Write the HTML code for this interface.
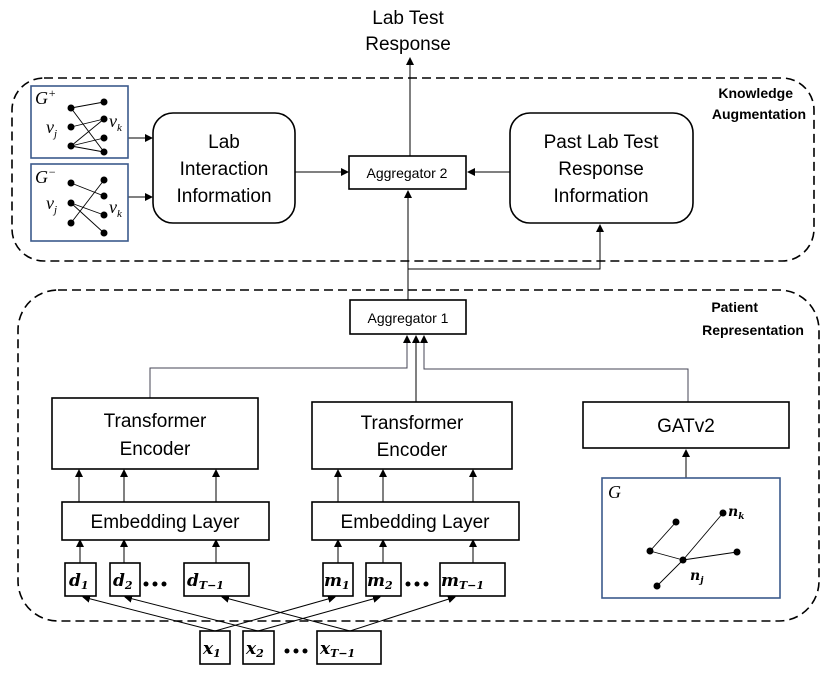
<!DOCTYPE html>
<html><head><meta charset="utf-8"><style>
html,body{margin:0;padding:0;background:#fff;}
svg{display:block;font-family:"Liberation Sans",sans-serif;}
.m{font-family:"DejaVu Serif","Liberation Serif",serif;font-weight:bold;font-style:italic;}
.i{font-family:"Liberation Serif",serif;font-style:italic;}
</style></head><body>
<svg width="839" height="675" viewBox="0 0 839 675" xmlns="http://www.w3.org/2000/svg">
<defs><marker id="a" markerWidth="8" markerHeight="8" refX="7" refY="4" orient="auto" markerUnits="userSpaceOnUse"><path d="M0,0 L8,4 L0,8 z" fill="#000"/></marker></defs>
<g fill="none" stroke="#000" stroke-width="1.6" stroke-dasharray="9,5">
<rect x="12" y="78" width="802" height="183" rx="32"/>
<rect x="18" y="290" width="801" height="331" rx="40"/>
</g>
<text x="408" y="24" font-size="19" text-anchor="middle">Lab Test</text>
<text x="408" y="50" font-size="19" text-anchor="middle">Response</text>
<text x="793" y="98" font-size="14" font-weight="bold" text-anchor="end">Knowledge</text>
<text x="806" y="119" font-size="14" font-weight="bold" text-anchor="end">Augmentation</text>
<text x="758" y="312" font-size="14" font-weight="bold" text-anchor="end">Patient</text>
<text x="804" y="335" font-size="14" font-weight="bold" text-anchor="end">Representation</text>
<g stroke="#000" stroke-width="1" fill="none">
<line x1="410" y1="156" x2="410" y2="58" marker-end="url(#a)"/>
<line x1="128" y1="138" x2="152" y2="138" marker-end="url(#a)"/>
<line x1="128" y1="197" x2="152" y2="197" marker-end="url(#a)"/>
<line x1="295" y1="172" x2="348" y2="172" marker-end="url(#a)"/>
<line x1="510" y1="172" x2="468" y2="172" marker-end="url(#a)"/>
<line x1="408" y1="300" x2="408" y2="191" marker-end="url(#a)"/>
<polyline points="408,269 600,269 600,225" marker-end="url(#a)"/>
<polyline stroke="#445" points="150,398 150,368 407,368 407,336" marker-end="url(#a)"/>
<line x1="416" y1="402" x2="416" y2="336" marker-end="url(#a)"/>
<polyline stroke="#445" points="688,402 688,369 424,369 424,336" marker-end="url(#a)"/>
<line x1="686" y1="478" x2="686" y2="450" marker-end="url(#a)"/>
<line x1="79" y1="502" x2="79" y2="470" marker-end="url(#a)"/>
<line x1="124" y1="502" x2="124" y2="470" marker-end="url(#a)"/>
<line x1="216" y1="502" x2="216" y2="470" marker-end="url(#a)"/>
<line x1="338" y1="502" x2="338" y2="470" marker-end="url(#a)"/>
<line x1="383" y1="502" x2="383" y2="470" marker-end="url(#a)"/>
<line x1="473" y1="502" x2="473" y2="470" marker-end="url(#a)"/>
<line x1="80" y1="563" x2="80" y2="540" marker-end="url(#a)"/>
<line x1="124" y1="563" x2="124" y2="540" marker-end="url(#a)"/>
<line x1="216" y1="563" x2="216" y2="540" marker-end="url(#a)"/>
<line x1="338" y1="563" x2="338" y2="540" marker-end="url(#a)"/>
<line x1="383" y1="563" x2="383" y2="540" marker-end="url(#a)"/>
<line x1="473" y1="563" x2="473" y2="540" marker-end="url(#a)"/>
<line x1="215" y1="631" x2="83" y2="597" marker-end="url(#a)"/>
<line x1="215" y1="631" x2="335" y2="597" marker-end="url(#a)"/>
<line x1="258" y1="631" x2="125" y2="597" marker-end="url(#a)"/>
<line x1="258" y1="631" x2="380" y2="597" marker-end="url(#a)"/>
<line x1="350" y1="631" x2="222" y2="597" marker-end="url(#a)"/>
<line x1="350" y1="631" x2="455" y2="597" marker-end="url(#a)"/>
</g>
<g fill="#fff" stroke="#000" stroke-width="1.6">
<rect x="153" y="113" width="142" height="110" rx="20"/>
<rect x="510" y="113" width="183" height="110" rx="20"/>
<rect x="349" y="156" width="117" height="33"/>
<rect x="350" y="300" width="116" height="34"/>
<rect x="52" y="398" width="206" height="71"/>
<rect x="312" y="402" width="200" height="67"/>
<rect x="583" y="402" width="206" height="46"/>
<rect x="62" y="502" width="207" height="38"/>
<rect x="312" y="502" width="207" height="38"/>
<rect x="65" y="563" width="31" height="33"/>
<rect x="110" y="563" width="30" height="33"/>
<rect x="184" y="563" width="65" height="33"/>
<rect x="323" y="563" width="30" height="33"/>
<rect x="366" y="563" width="35" height="33"/>
<rect x="440" y="563" width="65" height="33"/>
<rect x="200" y="631" width="30" height="33"/>
<rect x="243" y="631" width="31" height="33"/>
<rect x="317" y="631" width="64" height="33"/>
</g>
<g fill="#fff" stroke="#3b5a8c" stroke-width="1.6">
<rect x="31" y="86" width="97" height="72"/>
<rect x="31" y="164" width="97" height="77"/>
<rect x="602" y="478" width="178" height="120"/>
</g>
<g font-size="19" text-anchor="middle">
<text x="224" y="148">Lab</text><text x="224" y="175">Interaction</text><text x="224" y="202">Information</text>
<text x="601" y="148">Past Lab Test</text><text x="601" y="175">Response</text><text x="601" y="202">Information</text>
<text x="155" y="427">Transformer</text><text x="155" y="455">Encoder</text>
<text x="412" y="429">Transformer</text><text x="412" y="456">Encoder</text>
<text x="686" y="432">GATv2</text>
<text x="165" y="528">Embedding Layer</text>
<text x="415" y="528">Embedding Layer</text>
<text x="407" y="178" font-size="14">Aggregator 2</text>
<text x="408" y="323" font-size="14">Aggregator 1</text>
</g>
<g class="m" font-size="17">
<text x="69" y="586">d<tspan font-size="11" dy="3">1</tspan></text>
<text x="113" y="586">d<tspan font-size="11" dy="3">2</tspan></text>
<text x="187" y="586">d<tspan font-size="11" dy="3">T−1</tspan></text>
<text x="324" y="586">m<tspan font-size="11" dy="3">1</tspan></text>
<text x="367" y="586">m<tspan font-size="11" dy="3">2</tspan></text>
<text x="441" y="586">m<tspan font-size="11" dy="3">T−1</tspan></text>
<text x="203" y="654">x<tspan font-size="11" dy="3">1</tspan></text>
<text x="246" y="654">x<tspan font-size="11" dy="3">2</tspan></text>
<text x="320" y="654">x<tspan font-size="11" dy="3">T−1</tspan></text>
</g>
<g fill="#000">
<circle cx="146" cy="584" r="2.5"/><circle cx="155" cy="584" r="2.5"/><circle cx="164" cy="584" r="2.5"/>
<circle cx="408" cy="584" r="2.5"/><circle cx="417" cy="584" r="2.5"/><circle cx="426" cy="584" r="2.5"/>
<circle cx="287" cy="651" r="2.5"/><circle cx="296" cy="651" r="2.5"/><circle cx="305" cy="651" r="2.5"/>
</g>
<g stroke="#000" stroke-width="0.9">
<line x1="71" y1="108" x2="104" y2="102"/><line x1="71" y1="108" x2="104" y2="152"/>
<line x1="71" y1="127" x2="104" y2="119"/><line x1="71" y1="146" x2="104" y2="119"/>
<line x1="71" y1="146" x2="104" y2="138"/><line x1="71" y1="146" x2="104" y2="152"/>
<line x1="71" y1="183" x2="104" y2="196"/><line x1="71" y1="203" x2="104" y2="215"/>
<line x1="71" y1="203" x2="104" y2="233"/><line x1="71" y1="223" x2="104" y2="180"/>
<line x1="676" y1="522" x2="650" y2="551"/><line x1="650" y1="551" x2="683" y2="560"/>
<line x1="683" y1="560" x2="723" y2="513"/><line x1="683" y1="560" x2="737" y2="552"/>
<line x1="683" y1="560" x2="657" y2="586"/>
</g>
<g fill="#000">
<circle cx="71" cy="108" r="3.5"/><circle cx="71" cy="127" r="3.5"/><circle cx="71" cy="146" r="3.5"/>
<circle cx="104" cy="102" r="3.5"/><circle cx="104" cy="119" r="3.5"/><circle cx="104" cy="138" r="3.5"/><circle cx="104" cy="152" r="3.5"/>
<circle cx="71" cy="183" r="3.5"/><circle cx="71" cy="203" r="3.5"/><circle cx="71" cy="223" r="3.5"/>
<circle cx="104" cy="180" r="3.5"/><circle cx="104" cy="196" r="3.5"/><circle cx="104" cy="215" r="3.5"/><circle cx="104" cy="233" r="3.5"/>
<circle cx="676" cy="522" r="3.5"/><circle cx="650" cy="551" r="3.5"/><circle cx="683" cy="560" r="3.5"/>
<circle cx="723" cy="513" r="3.5"/><circle cx="737" cy="552" r="3.5"/><circle cx="657" cy="586" r="3.5"/>
</g>
<g class="i" font-size="18">
<text x="35" y="104">G<tspan font-size="12" dy="-7">+</tspan></text>
<text x="35" y="183">G<tspan font-size="12" dy="-7">−</tspan></text>
<text x="46" y="133">v<tspan font-size="11" dy="4">j</tspan></text>
<text x="109" y="127">v<tspan font-size="11" dy="4">k</tspan></text>
<text x="46" y="209">v<tspan font-size="11" dy="4">j</tspan></text>
<text x="109" y="213">v<tspan font-size="11" dy="4">k</tspan></text>
<text x="608" y="498">G</text>
</g>
<g class="m" font-size="14">
<text x="728" y="516">n<tspan font-size="9" dy="3">k</tspan></text>
<text x="690" y="580">n<tspan font-size="9" dy="3">j</tspan></text>
</g>
</svg>
</body></html>
